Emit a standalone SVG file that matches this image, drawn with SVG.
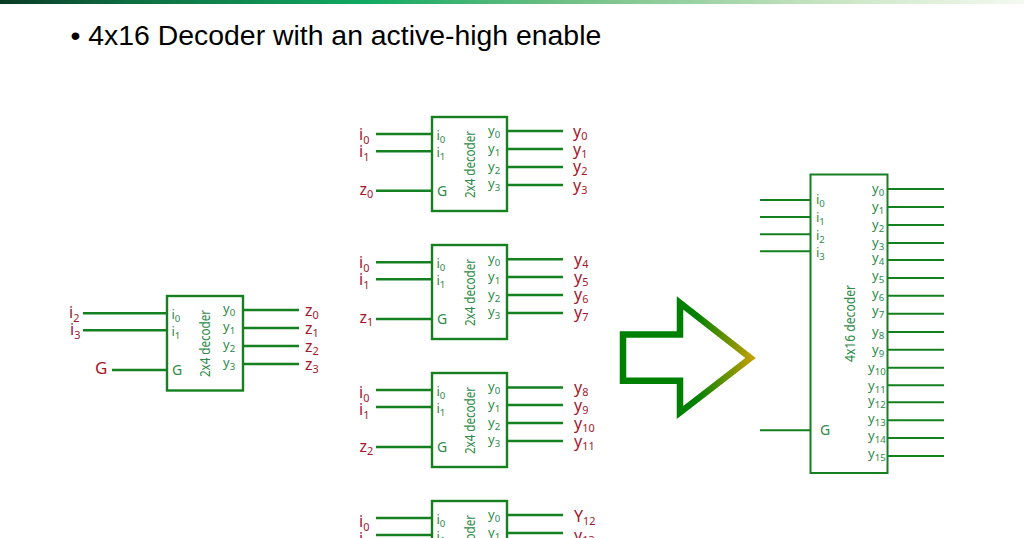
<svg xmlns="http://www.w3.org/2000/svg" width="1024" height="538" viewBox="0 0 1024 538">
<style>
text{font-family:"Noto Sans","DejaVu Sans",sans-serif}
.box{fill:none;stroke:#14801f;stroke-width:2.4}
.w{stroke:#14801f;stroke-width:2.4;fill:none}
.w2{stroke:#14801f;stroke-width:2;fill:none}
.in{fill:#2f8a4a;font-size:13px}
.g{fill:#2f8a4a;font-size:14px}
.ex{fill:#a3182a;font-size:16px}
.big{font-size:17px}
.rot{fill:#2f8a4a;font-size:13.5px;text-anchor:middle}
.s{font-size:.74em}
.ex .s{font-size:.68em}
</style>
<defs>
<linearGradient id="bar" x1="0" x2="1" y1="0" y2="0">
<stop offset="0" stop-color="#0b3a24"/><stop offset=".12" stop-color="#0d6b40"/><stop offset=".36" stop-color="#12aa62"/><stop offset=".55" stop-color="#6fbf85"/><stop offset=".8" stop-color="#c5e3c0"/><stop offset="1" stop-color="#f4faf0"/>
</linearGradient>
<linearGradient id="ar" gradientUnits="userSpaceOnUse" x1="620" x2="752" y1="0" y2="0">
<stop offset="0" stop-color="#008000"/><stop offset=".58" stop-color="#008000"/><stop offset="1" stop-color="#c0a000"/>
</linearGradient>
</defs>
<rect width="1024" height="538" fill="#fff"/>
<rect id="topbar" width="1024" height="4" fill="url(#bar)"/>
<text id="title" x="70.500" y="45" font-size="28.4" style="font-family:'Liberation Sans',Arial,sans-serif" fill="#000">• 4x16 Decoder with an active-high enable</text>

<g id="connectors">
<g class="w">
<path d="M83 313.3H167M83 330.3H167M112 370H167M243 310H299M243 328H299M243 346H299M243 364H299"/>
<path d="M376 134H432M376 151.3H432M376 190.7H432M507 131H563M507 149H563M507 167H563M507 185H563"/>
<path d="M376 262.3H432M376 279.3H432M376 319H432M507 259.3H563M507 277H563M507 295H563M507 313H563"/>
<path d="M376 390H432M376 407H432M376 447H432M507 387.5H563M507 405H563M507 423H563M507 441H563"/>
<path d="M376 518H432M376 535H432M507 515H563M507 533H563"/>
</g>
<g class="w2">
<path d="M760 200H810M760 217H810M760 234.3H810M760 251.3H810M760 430.3H810"/>
<path d="M888 189H944M888 207H944M888 225H944M888 243H944M888 260H944M888 278H944M888 295.7H944M888 313.7H944M888 332H944M888 349.7H944M888 367.7H944M888 385.3H944M888 402.3H944M888 420.3H944M888 438H944M888 456H944"/>
</g>
</g>

<g id="dec-left">
<rect class="box" x="167" y="296" width="76" height="94.5"/>
<text class="in" x="171.5" y="319">i<tspan class="s" dy="3">0</tspan></text>
<text class="in" x="171.5" y="336">i<tspan class="s" dy="3">1</tspan></text>
<text class="g" x="172" y="375">G</text>
<text class="in" x="223" y="313">y<tspan class="s" dy="3">0</tspan></text>
<text class="in" x="223" y="331">y<tspan class="s" dy="3">1</tspan></text>
<text class="in" x="223" y="349">y<tspan class="s" dy="3">2</tspan></text>
<text class="in" x="223" y="367">y<tspan class="s" dy="3">3</tspan></text>
<text class="rot" textLength="67" lengthAdjust="spacingAndGlyphs" transform="translate(210 343.5) rotate(-90)">2x4 decoder</text>
</g>
<g id="ext-left">
<text class="ex" x="69" y="318">i<tspan class="s" dy="4">2</tspan></text>
<text class="ex" x="70" y="335">i<tspan class="s" dy="4">3</tspan></text>
<text class="ex big" x="95" y="374">G</text>
<text class="ex" x="305" y="316">z<tspan class="s" dy="3">0</tspan></text>
<text class="ex" x="305" y="334">z<tspan class="s" dy="3">1</tspan></text>
<text class="ex" x="305" y="352">z<tspan class="s" dy="3">2</tspan></text>
<text class="ex" x="305" y="370">z<tspan class="s" dy="3">3</tspan></text>
</g>

<g id="dec-a" transform="translate(432 117)">
<rect class="box" width="75" height="94"/>
<text class="in" x="4.5" y="23">i<tspan class="s" dy="3">0</tspan></text>
<text class="in" x="4.5" y="40">i<tspan class="s" dy="3">1</tspan></text>
<text class="g" x="5" y="79">G</text>
<text class="in" x="56" y="18">y<tspan class="s" dy="3">0</tspan></text>
<text class="in" x="56" y="36">y<tspan class="s" dy="3">1</tspan></text>
<text class="in" x="56" y="54">y<tspan class="s" dy="3">2</tspan></text>
<text class="in" x="56" y="71">y<tspan class="s" dy="3">3</tspan></text>
<text class="rot" textLength="67" lengthAdjust="spacingAndGlyphs" transform="translate(43 47.5) rotate(-90)">2x4 decoder</text>
</g>
<g id="ext-a">
<text class="ex" x="359" y="140">i<tspan class="s" dy="4">0</tspan></text>
<text class="ex" x="359" y="157">i<tspan class="s" dy="4">1</tspan></text>
<text class="ex" x="359.5" y="195">z<tspan class="s" dy="3">0</tspan></text>
<text class="ex" x="573" y="137">y<tspan class="s" dy="3">0</tspan></text>
<text class="ex" x="573" y="155">y<tspan class="s" dy="3">1</tspan></text>
<text class="ex" x="573" y="172">y<tspan class="s" dy="3">2</tspan></text>
<text class="ex" x="573" y="191">y<tspan class="s" dy="3">3</tspan></text>
</g>

<g id="dec-b" transform="translate(432 245)">
<rect class="box" width="75" height="94"/>
<text class="in" x="4.5" y="23">i<tspan class="s" dy="3">0</tspan></text>
<text class="in" x="4.5" y="40">i<tspan class="s" dy="3">1</tspan></text>
<text class="g" x="5" y="79">G</text>
<text class="in" x="56" y="18">y<tspan class="s" dy="3">0</tspan></text>
<text class="in" x="56" y="36">y<tspan class="s" dy="3">1</tspan></text>
<text class="in" x="56" y="54">y<tspan class="s" dy="3">2</tspan></text>
<text class="in" x="56" y="71">y<tspan class="s" dy="3">3</tspan></text>
<text class="rot" textLength="67" lengthAdjust="spacingAndGlyphs" transform="translate(43 47.5) rotate(-90)">2x4 decoder</text>
</g>
<g id="ext-b">
<text class="ex" x="359" y="268">i<tspan class="s" dy="4">0</tspan></text>
<text class="ex" x="359" y="285">i<tspan class="s" dy="4">1</tspan></text>
<text class="ex" x="359.5" y="323">z<tspan class="s" dy="3">1</tspan></text>
<text class="ex" x="574" y="265">y<tspan class="s" dy="3">4</tspan></text>
<text class="ex" x="574" y="283">y<tspan class="s" dy="3">5</tspan></text>
<text class="ex" x="574" y="300">y<tspan class="s" dy="3">6</tspan></text>
<text class="ex" x="574" y="318">y<tspan class="s" dy="3">7</tspan></text>
</g>

<g id="dec-c" transform="translate(432 373)">
<rect class="box" width="75" height="94"/>
<text class="in" x="4.5" y="23">i<tspan class="s" dy="3">0</tspan></text>
<text class="in" x="4.5" y="40">i<tspan class="s" dy="3">1</tspan></text>
<text class="g" x="5" y="79">G</text>
<text class="in" x="56" y="18">y<tspan class="s" dy="3">0</tspan></text>
<text class="in" x="56" y="36">y<tspan class="s" dy="3">1</tspan></text>
<text class="in" x="56" y="54">y<tspan class="s" dy="3">2</tspan></text>
<text class="in" x="56" y="71">y<tspan class="s" dy="3">3</tspan></text>
<text class="rot" textLength="67" lengthAdjust="spacingAndGlyphs" transform="translate(43 47.5) rotate(-90)">2x4 decoder</text>
</g>
<g id="ext-c">
<text class="ex" x="359" y="398">i<tspan class="s" dy="4">0</tspan></text>
<text class="ex" x="359" y="415">i<tspan class="s" dy="4">1</tspan></text>
<text class="ex" x="359.5" y="452">z<tspan class="s" dy="3">2</tspan></text>
<text class="ex" x="574" y="393">y<tspan class="s" dy="3">8</tspan></text>
<text class="ex" x="574" y="411">y<tspan class="s" dy="3">9</tspan></text>
<text class="ex" x="574" y="429">y<tspan class="s" dy="3">10</tspan></text>
<text class="ex" x="574" y="447">y<tspan class="s" dy="3">11</tspan></text>
</g>

<g id="dec-d" transform="translate(432 501)">
<rect class="box" width="75" height="94"/>
<text class="in" x="4.5" y="23">i<tspan class="s" dy="3">0</tspan></text>
<text class="in" x="4.5" y="40">i<tspan class="s" dy="3">1</tspan></text>
<text class="in" x="56" y="18">y<tspan class="s" dy="3">0</tspan></text>
<text class="in" x="56" y="36">y<tspan class="s" dy="3">1</tspan></text>
<text class="rot" textLength="67" lengthAdjust="spacingAndGlyphs" transform="translate(43 47.5) rotate(-90)">2x4 decoder</text>
</g>
<g id="ext-d">
<text class="ex" x="359" y="527">i<tspan class="s" dy="4">0</tspan></text>
<text class="ex" x="359" y="544">i<tspan class="s" dy="4">1</tspan></text>
<text class="ex" x="574" y="522">Y<tspan class="s" dy="3">12</tspan></text>
<text class="ex" x="574" y="541">y<tspan class="s" dy="3">13</tspan></text>
</g>

<path id="big-arrow" d="M623 334.5H680V303L750.500 358L680 412.500V380.700H623Z" fill="none" stroke="url(#ar)" stroke-width="6.500"/>

<g id="dec-4x16">
<rect class="box" style="stroke-width:2" x="810.5" y="174.5" width="77" height="298.5"/>
<text class="in" x="816" y="204">i<tspan class="s" dy="3">0</tspan></text>
<text class="in" x="816" y="222">i<tspan class="s" dy="3">1</tspan></text>
<text class="in" x="816" y="240">i<tspan class="s" dy="3">2</tspan></text>
<text class="in" x="816" y="257">i<tspan class="s" dy="3">3</tspan></text>
<text class="g" x="820" y="435">G</text>
<text class="in" x="872" y="193">y<tspan class="s" dy="3">0</tspan></text>
<text class="in" x="872" y="211">y<tspan class="s" dy="3">1</tspan></text>
<text class="in" x="872" y="229">y<tspan class="s" dy="3">2</tspan></text>
<text class="in" x="872" y="247">y<tspan class="s" dy="3">3</tspan></text>
<text class="in" x="872" y="262">y<tspan class="s" dy="3">4</tspan></text>
<text class="in" x="872" y="280">y<tspan class="s" dy="3">5</tspan></text>
<text class="in" x="872" y="298">y<tspan class="s" dy="3">6</tspan></text>
<text class="in" x="872" y="315">y<tspan class="s" dy="3">7</tspan></text>
<text class="in" x="872" y="336">y<tspan class="s" dy="3">8</tspan></text>
<text class="in" x="872" y="354">y<tspan class="s" dy="3">9</tspan></text>
<text class="in" x="868" y="372">y<tspan class="s" dy="3">10</tspan></text>
<text class="in" x="868" y="390">y<tspan class="s" dy="3">11</tspan></text>
<text class="in" x="868" y="405">y<tspan class="s" dy="3">12</tspan></text>
<text class="in" x="868" y="423">y<tspan class="s" dy="3">13</tspan></text>
<text class="in" x="868" y="440">y<tspan class="s" dy="3">14</tspan></text>
<text class="in" x="868" y="458">y<tspan class="s" dy="3">15</tspan></text>
<text class="rot" textLength="77" lengthAdjust="spacingAndGlyphs" transform="translate(855 323.5) rotate(-90)">4x16 decoder</text>
</g>
</svg>
